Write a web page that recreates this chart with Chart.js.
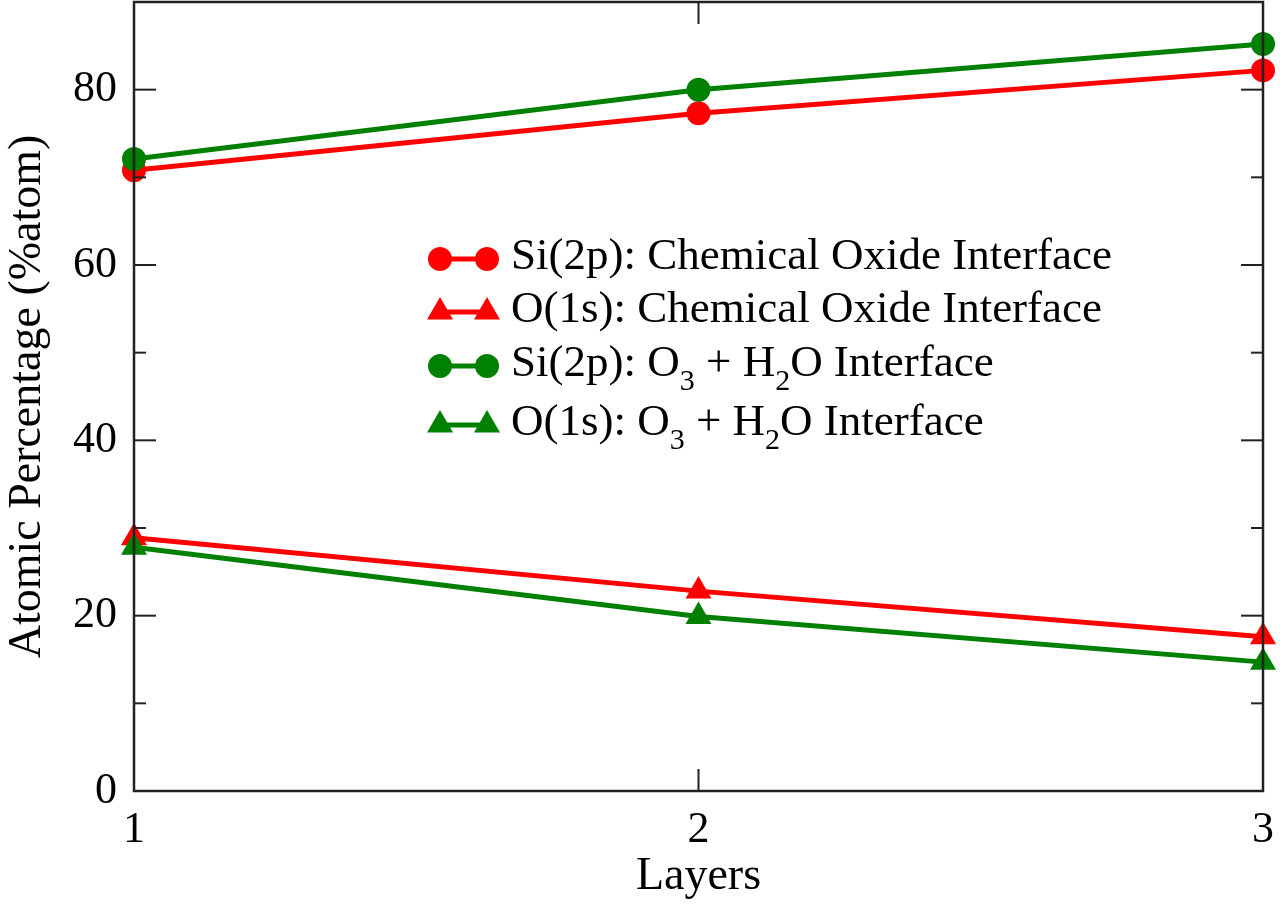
<!DOCTYPE html>
<html>
<head>
<meta charset="utf-8">
<script src="https://cdn.jsdelivr.net/npm/chart.js@4.4.1/dist/chart.umd.min.js"></script>
<style>
  html, body { margin: 0; padding: 0; background: #ffffff; }
  #wrap { width: 1280px; height: 905px; }
</style>
</head>
<body>
<div id="wrap"><canvas id="c" width="1280" height="905"></canvas></div>
<script>
// ---- data ----
const layers = [1, 2, 3];
const xTickValues = [1, 2, 3];
const siChemical = [70.8, 77.3, 82.2];
const oChemical = [28.9, 22.8, 17.6];
const siOzone = [72.1, 80.0, 85.2];
const oOzone = [27.8, 19.9, 14.7];
const seriesLabels = [
  'Si(2p): Chemical Oxide Interface',
  'O(1s): Chemical Oxide Interface',
  'Si(2p): O_3 + H_2O Interface',
  'O(1s): O_3 + H_2O Interface'
];
const yMin = 0, yMax = 90, yMinorStep = 10, yMajorStep = 20;
const xTitle = 'Layers';
const yTitle = 'Atomic Percentage (%atom)';

// ---- styling ----
const RED = '#ff0000';
const GREEN = '#008000';
const FONT = '"Liberation Serif", "Times New Roman", serif';

function pts(vals) { return layers.map((x, i) => ({ x: x, y: vals[i] })); }
function ds(label, vals, color, style, order) {
  const r = style === 'circle' ? 12 : 15;
  return {
    label: label, data: pts(vals),
    borderColor: color, backgroundColor: color, borderWidth: 5,
    pointStyle: style, pointRadius: r, pointHoverRadius: r,
    pointBackgroundColor: color, pointBorderColor: color, pointBorderWidth: 0,
    tension: 0, fill: false, clip: false, order: order
  };
}

function parseMarkup(s) {
  const out = [];
  const re = /_(\d)/g;
  let last = 0, m;
  while ((m = re.exec(s)) !== null) {
    if (m.index > last) out.push({ t: s.slice(last, m.index), sub: false });
    out.push({ t: m[1], sub: true });
    last = re.lastIndex;
  }
  if (last < s.length) out.push({ t: s.slice(last), sub: false });
  return out;
}

function drawMarker(ctx, style, r, x, y) {
  if (Chart.helpers && Chart.helpers.drawPoint) {
    Chart.helpers.drawPoint(ctx, { pointStyle: style, radius: r, rotation: 0, borderWidth: 0 }, x, y);
    return;
  }
  ctx.beginPath();
  if (style === 'circle') ctx.arc(x, y, r, 0, Math.PI * 2);
  else {
    ctx.moveTo(x, y - r);
    ctx.lineTo(x + r * Math.sin(2 * Math.PI / 3), y + r / 2);
    ctx.lineTo(x - r * Math.sin(2 * Math.PI / 3), y + r / 2);
    ctx.closePath();
  }
  ctx.fill();
}

const framePlugin = {
  id: 'frame',
  afterDatasetsDraw(chart) {
    const ctx = chart.ctx, a = chart.chartArea;
    const xs = chart.scales.x, ys = chart.scales.y;
    ctx.save();
    ctx.strokeStyle = '#222222';
    ctx.lineWidth = 2;
    const line = (x1, y1, x2, y2) => { ctx.beginPath(); ctx.moveTo(x1, y1); ctx.lineTo(x2, y2); ctx.stroke(); };
    ys.ticks.forEach(t => {
      const py = ys.getPixelForValue(t.value);
      const len = (t.value % yMajorStep === 0) ? 22 : 12;
      line(a.left, py, a.left + len, py);
      line(a.right, py, a.right - len, py);
    });
    xs.ticks.forEach(t => {
      const px = xs.getPixelForValue(t.value);
      line(px, a.bottom, px, a.bottom - 22);
      line(px, a.top, px, a.top + 22);
    });
    ctx.lineWidth = 2.5;
    ctx.strokeRect(a.left, a.top, a.right - a.left, a.bottom - a.top);
    ctx.restore();
  }
};

const legendPlugin = {
  id: 'seriesLegend',
  afterDraw(chart) {
    const ctx = chart.ctx;
    const baselines = [269, 322, 376, 435];
    const x0 = 440, x1 = 487, textX = 511;
    chart.data.datasets.forEach((d, i) => {
      const by = baselines[i], sy = by - 10;
      ctx.save();
      ctx.strokeStyle = d.borderColor;
      ctx.lineWidth = 5;
      ctx.beginPath(); ctx.moveTo(x0, sy); ctx.lineTo(x1, sy); ctx.stroke();
      ctx.fillStyle = d.borderColor;
      drawMarker(ctx, d.pointStyle, d.pointRadius, x0, sy);
      drawMarker(ctx, d.pointStyle, d.pointRadius, x1, sy);
      ctx.fillStyle = '#000000';
      ctx.textAlign = 'left';
      ctx.textBaseline = 'alphabetic';
      let cx = textX;
      parseMarkup(d.label).forEach(seg => {
        ctx.font = (seg.sub ? '30px ' : '45px ') + FONT;
        ctx.fillText(seg.t, cx, by + (seg.sub ? 14 : 0));
        cx += ctx.measureText(seg.t).width;
      });
      ctx.restore();
    });
  }
};

new Chart(document.getElementById('c'), {
  type: 'line',
  data: {
    datasets: [
      ds(seriesLabels[0], siChemical, RED, 'circle', 2),
      ds(seriesLabels[1], oChemical, RED, 'triangle', 2),
      ds(seriesLabels[2], siOzone, GREEN, 'circle', 1),
      ds(seriesLabels[3], oOzone, GREEN, 'triangle', 1)
    ]
  },
  options: {
    responsive: false,
    animation: false,
    devicePixelRatio: 1,
    layout: { autoPadding: false, padding: { top: 2, right: 17, left: 0, bottom: 0 } },
    plugins: { legend: { display: false }, tooltip: { enabled: false } },
    events: [],
    scales: {
      x: {
        type: 'linear', min: layers[0], max: layers[layers.length - 1],
        afterBuildTicks(s) { s.ticks = xTickValues.map(v => ({ value: v })); },
        ticks: { autoSkip: false, padding: 13, color: '#000', font: { family: FONT, size: 44 }, maxRotation: 0,
                 callback: v => String(v) },
        grid: { display: false, drawTicks: false },
        border: { display: false },
        title: { display: true, text: xTitle, color: '#000', font: { family: FONT, size: 46 }, padding: { top: 0, bottom: 0 } },
        afterFit(s) { s.height = 114; s.paddingLeft = 0; s.paddingRight = 0; }
      },
      y: {
        type: 'linear', min: yMin, max: yMax,
        ticks: { stepSize: yMinorStep, autoSkip: false, padding: 17, color: '#000', font: { family: FONT, size: 44 },
                 callback: v => (v % yMajorStep === 0 ? String(v) : '') },
        grid: { display: false, drawTicks: false },
        border: { display: false },
        title: { display: true, text: yTitle, color: '#000', font: { family: FONT, size: 46 }, padding: { top: 0, bottom: 0 } },
        afterFit(s) { s.width = 134; s.paddingTop = 0; s.paddingBottom = 0; }
      }
    }
  },
  plugins: [framePlugin, legendPlugin]
});
</script>
</body>
</html>
